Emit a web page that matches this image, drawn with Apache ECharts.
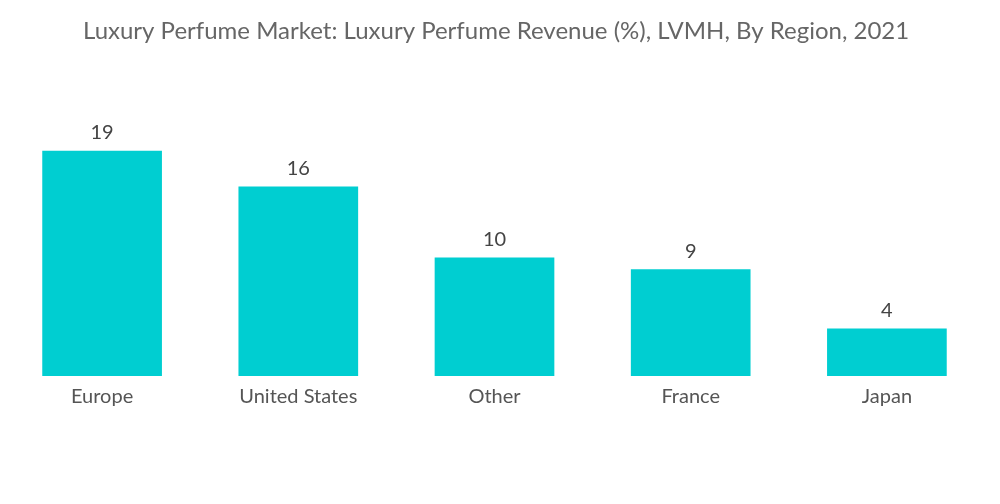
<!DOCTYPE html>
<html><head><meta charset="utf-8">
<script src="https://cdn.jsdelivr.net/npm/echarts@6/dist/echarts.min.js"></script>
<style>html,body{margin:0;padding:0;background:#fff}#c{width:1000px;height:504px}</style>
</head><body><div id="c"></div>
<script>
const titleText = 'Luxury Perfume Market: Luxury Perfume Revenue (%), LVMH, By Region, 2021';
const categories = ['Europe', 'United States', 'Other', 'France', 'Japan'];
const values = [19, 16, 10, 9, 4];

const chart = echarts.init(document.getElementById('c'));
chart.setOption({
  animation: false,
  textStyle: { fontFamily: 'Lato' },
  title: {
    text: titleText, left: 78, top: 14,
    textStyle: { fontFamily: 'Lato', fontSize: 24, fontWeight: 'normal', color: '#666' }
  },
  grid: { left: 4, right: 15, top: 139, bottom: 128, containLabel: false },
  xAxis: {
    type: 'category', data: categories,
    axisLine: { show: false }, axisTick: { show: false },
    axisLabel: { fontSize: 20, color: '#555', margin: 11, fontFamily: 'Lato' }
  },
  yAxis: { type: 'value', min: 0, max: 20, show: false, splitLine: { show: false } },
  series: [{
    type: 'bar', data: values, barCategoryGap: '39%',
    itemStyle: { color: '#00CED1' },
    label: { show: true, position: 'top', fontSize: 20, color: '#444', distance: 8, fontFamily: 'Lato' }
  }]
});
</script></body></html>
